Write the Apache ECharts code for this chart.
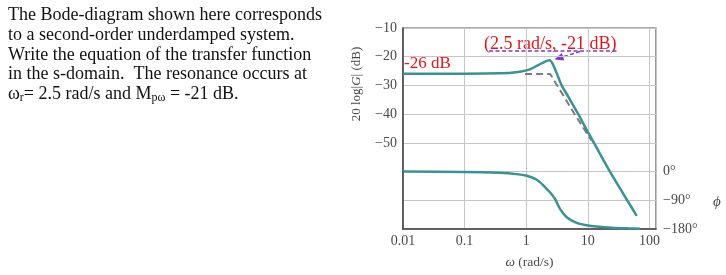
<!DOCTYPE html>
<html><head><meta charset="utf-8">
<script src="https://cdn.jsdelivr.net/npm/echarts@6/dist/echarts.min.js"></script>
<style>html,body{margin:0;padding:0;background:#fff}#c{width:726px;height:275px}</style>
</head><body><div id="c"></div>
<script>
// ---- data ----
const magFreq = [0.01, 0.1, 0.38, 0.79, 1.15, 1.57, 2.02, 2.4, 2.75, 3.13, 3.77, 4.82, 6.19, 7.01, 9.6, 12.6, 22.9, 43.7, 62.2];
const magDb   = [-25.9, -25.9, -25.8, -25.2, -24.4, -22.9, -21.7, -21.2, -22.9, -25.8, -30, -33.9, -38, -40, -45.5, -50, -60, -70, -75.4];
const asymFreq = [0.96, 2.45, 6.19, 11.5];
const asymDb   = [-26, -26, -40.2, -49.2];
const phaseFreq = [0.01, 0.1, 0.37, 0.7, 1.02, 1.4, 1.67, 2.0, 2.43, 2.94, 3.54, 4.54, 6.6, 9.6, 13.9, 25, 45, 70];
const phaseDeg  = [0, -1, -4, -8, -13, -23, -33, -48, -65, -86, -117, -143, -161, -168, -172, -176, -178, -179];
const xTickLabels = [0.01, 0.1, 1, 10, 100];
const magTickLabels = [-10, -20, -30, -40, -50];
const phaseTickLabels = [0, -90, -180];
const descLines = [
  'The Bode-diagram shown here corresponds',
  'to a second-order underdamped system.',
  'Write the equation of the transfer function',
  'in the s-domain.  The resonance occurs at',
  'ω{s|r}= 2.5 rad/s and M{s|pω} = -21 dB.'
];

const SERIF = '"Liberation Serif","Times New Roman",serif';
const TEAL = '#3b9193';
const GREY = '#4a4a4a';
const RED = '#e3161d';
const PURPLE = '#7a3cc0';
function zip(a, b) { return a.map((v, i) => [v, b[i]]); }

const chart = echarts.init(document.getElementById('c'), null, { renderer: 'canvas' });

// arrow head
const tail = [580, 51.5], tip = [554.5, 59.5];
const dx = tip[0] - tail[0], dy = tip[1] - tail[1], L = Math.hypot(dx, dy);
const ux = dx / L, uy = dy / L, hl = 9, hw = 4;
const bx = tip[0] - ux * hl, by = tip[1] - uy * hl;
const head = [[tip[0], tip[1]], [bx - uy * hw, by + ux * hw], [bx + uy * hw, by - ux * hw]];

chart.setOption({
  animation: false,
  backgroundColor: '#fff',
  grid: { left: 403, right: 70, top: 28, bottom: 46, show: true, borderColor: '#555', borderWidth: 1.2 },
  xAxis: {
    type: 'log', logBase: 10, min: 0.01, max: 128,
    axisLine: { show: true, onZero: false, lineStyle: { color: '#444', width: 1.5 } },
    axisTick: { show: false },
    splitLine: { show: true, lineStyle: { color: '#c6c6c6', width: 1 } },
    axisLabel: {
      margin: 5, color: GREY, fontFamily: SERIF, fontSize: 14,
      formatter: function (v) {
        const l = Math.log10(v), r = Math.round(l);
        if (Math.abs(l - r) > 1e-6) return '';
        const t = xTickLabels.find(t => Math.abs(Math.log10(t) - r) < 1e-6);
        return t === undefined ? '' : String(t);
      }
    },
    name: '{i|ω} (rad/s)', nameLocation: 'middle', nameGap: 26,
    nameTextStyle: { color: GREY, fontFamily: SERIF, fontSize: 13.5,
      rich: { i: { fontStyle: 'italic', fontFamily: SERIF, fontSize: 13.5, color: GREY } } }
  },
  yAxis: [{
    type: 'value', min: -80, max: -10, interval: 10,
    axisLine: { show: true, onZero: false, lineStyle: { color: '#444', width: 1.5 } },
    axisTick: { show: false },
    splitLine: { show: true, lineStyle: { color: '#c6c6c6', width: 1 } },
    axisLabel: { margin: 6, color: GREY, fontFamily: SERIF, fontSize: 14,
      formatter: v => magTickLabels.includes(v) ? '\u2212' + Math.abs(v) : '' }
  }, {
    type: 'value', position: 'right', min: -180, max: 450, interval: 90,
    axisLine: { show: false, onZero: false }, axisTick: { show: false }, splitLine: { show: false },
    axisLabel: { margin: 7, color: GREY, fontFamily: SERIF, fontSize: 14,
      formatter: v => phaseTickLabels.includes(v) ? (v === 0 ? '0°' : '\u2212' + (-v) + '°') : '' }
  }],
  series: [{
    type: 'line', yAxisIndex: 0, data: zip(asymFreq, asymDb), symbol: 'none', silent: true, z: 2,
    lineStyle: { color: '#7c7c7c', width: 2, type: [7, 4] }
  }, {
    type: 'line', yAxisIndex: 0, data: zip(magFreq, magDb), symbol: 'none', smooth: 0.3, z: 3,
    lineStyle: { color: TEAL, width: 2.5 }
  }, {
    type: 'line', yAxisIndex: 1, data: zip(phaseFreq, phaseDeg), symbol: 'none', smooth: 0.3, z: 3,
    lineStyle: { color: TEAL, width: 2.5 }
  }],
  graphic: [
    { type: 'text', x: 8, y: 5.3, style: { x: 0, y: 0, text: descLines.join('\n'), fill: '#111',
        fontFamily: SERIF, fontSize: 18, lineHeight: 19.8, verticalAlign: 'top',
        rich: { s: { fontFamily: SERIF, fontSize: 12, lineHeight: 12, verticalAlign: 'bottom', fill: '#111' } } } },
    { type: 'text', x: 404, y: 63.1, style: { text: '-26 dB', fill: RED, fontFamily: SERIF, fontSize: 17, verticalAlign: 'middle' } },
    { type: 'text', x: 484, y: 43.8, style: { text: '(2.5 rad/s, -21 dB)', fill: RED, fontFamily: SERIF, fontSize: 18, verticalAlign: 'middle' } },
    { type: 'line', shape: { x1: 489, y1: 51, x2: 617, y2: 51 }, style: { stroke: PURPLE, lineWidth: 1.5, lineDash: [4, 2.5] } },
    { type: 'line', shape: { x1: tail[0], y1: tail[1], x2: bx, y2: by }, style: { stroke: PURPLE, lineWidth: 1.5, lineDash: [4, 2.5] } },
    { type: 'polygon', shape: { points: head }, style: { fill: PURPLE } },
    { type: 'text', x: 357, y: 84, rotation: Math.PI / 2, style: { x: 0, y: 0, text: '20 log|{i|G}| (dB)', fill: GREY,
        fontFamily: SERIF, fontSize: 13, align: 'center', verticalAlign: 'middle',
        rich: { i: { fontStyle: 'italic', fontFamily: SERIF, fontSize: 13, fill: GREY } } } },
    { type: 'text', x: 717, y: 202, style: { text: 'ϕ', fill: GREY, fontFamily: SERIF, fontSize: 15, fontStyle: 'italic', align: 'center', verticalAlign: 'middle' } }
  ]
});
</script></body></html>
